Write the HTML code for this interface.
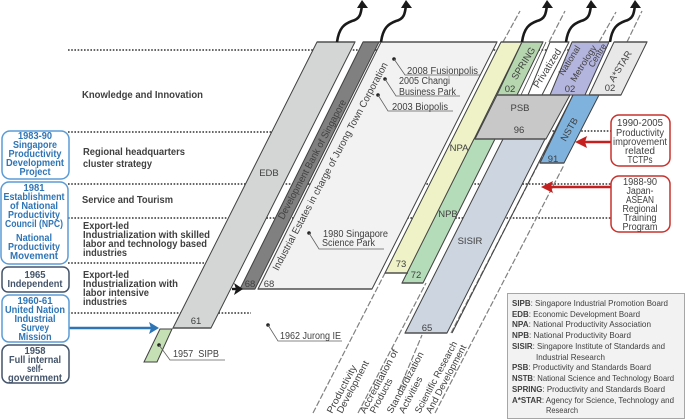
<!DOCTYPE html>
<html><head><meta charset="utf-8">
<style>
html,body{margin:0;padding:0;background:#fff}
svg{display:block;font-family:"Liberation Sans",sans-serif}
.p{stroke:#404040;stroke-width:1}
.dot{stroke:#333;stroke-width:1.6;stroke-dasharray:1.6 1.6;fill:none}
.dash{stroke:#808080;stroke-width:1.2;stroke-dasharray:6 2;fill:none}
.lab{font-size:10px;font-weight:bold;fill:#404040}
.bl{font-size:10px;font-weight:bold;fill:#2e75b6;text-anchor:middle}
.dk{font-size:10px;font-weight:bold;fill:#44546a;text-anchor:middle}
.rd{font-size:10px;fill:#404040;text-anchor:middle}
.t{font-size:10px;fill:#404040}
.m{font-size:9.5px;fill:#404040;text-anchor:middle}
.lg{font-size:8.7px;fill:#404040}
.ld{stroke:#606060;stroke-width:.8;fill:none}
.sq{stroke:#1a1a1a;stroke-width:2.6;fill:none}
</style></head><body>
<svg width="685" height="419" viewBox="0 0 685 419" xmlns="http://www.w3.org/2000/svg">
<!-- dotted -->
<path class="dot" d="M68 50H570M68 132H300M68 184H611M68 218H611M68 263H235M68 313H251M530 131H611"/>
<!-- dashed -->
<path class="dash" d="M313 413L385 273M503 42L520 11M358 413L426 283M549 42L565 11M399 390L422 335M451 333L574 95M599 42L616 12M435 413L564 165M627 42L642 11"/>
<path class="p" fill="none" d="M452 333L573 95"/>
<path d="M521 95L546 42" stroke="#404040" stroke-width=".8" fill="none"/>
<!-- polygons -->
<polygon class="p" fill="#d4d6d6" points="317,42 355,42 211,328 173,328"/>
<polygon class="p" fill="#808080" points="363,42 379,42 255,289 240,289"/>
<polygon class="p" fill="#f2f2f2" points="381,42 497,42 372,289 258,289"/>
<polygon class="p" fill="#eef2c6" points="501,42 522,42 408,273 385,273"/>
<polygon class="p" fill="#b5dcb8" points="474,139 495,139 423,283 402,283"/>
<polygon class="p" fill="#cdd5e0" points="503,139 545,139 447,333 405,333"/>
<polygon class="p" fill="#b5d6ae" points="522,42 543,42 517,95 497,95"/>
<polygon class="p" fill="#c8c8c8" points="497,95 570,95 546,139 475,139"/>
<polygon class="p" fill="#7fb3de" points="573,95 599,95 564,163 540,163"/>
<polygon class="p" fill="#ffffff" points="550,42 569,42 542,95 528,95"/>
<polygon class="p" fill="#b4b5de" points="572,42 609,42 585,95 550,95"/>
<polygon class="p" fill="#e8e8e8" points="614,42 647,42 621,95 589,95"/>
<polygon class="p" fill="#c5e0b4" points="160,329 172,329 157,362 144,362"/>
<path d="M317 42H355M363 42H497M501 42H543M550 42H569M572 42H609M614 42H647M497 95H570M589 95H621M475 139H546M173 328H211M240 289H255M258 289H372M385 273H408M402 283H423M405 333H447M540 163H564" stroke="#505050" stroke-width="1.4" fill="none"/>
<!-- squiggles -->
<g class="sq">
<path d="M337 42C339 28 344 24 352 21C360 19 361 14 362 5"/>
<path d="M381 42C383 28 388 24 396 21C404 19 405 14 406 5"/>
<path d="M522 42C524 28 529 24 537 21C545 19 546 14 547 5"/>
<path d="M566 42C568 28 573 24 581 21C589 19 590 14 591 5"/>
<path d="M610 42C612 28 617 24 625 21C633 19 634 14 635 5"/>
</g>
<g fill="#1a1a1a">
<polygon points="362,0 368,8 357,8"/><polygon points="406,0 412,8 401,8"/><polygon points="547,0 553,8 542,8"/><polygon points="591,0 597,8 586,8"/><polygon points="635,0 641,8 630,8"/>
</g>
<!-- arrows -->
<path d="M69 328H152" stroke="#2e75b6" stroke-width="2.6"/><polygon fill="#2e75b6" points="159,328 149,322 151,328 149,334"/>
<path d="M232 289H238" stroke="#1a1a1a" stroke-width="2.4"/><polygon fill="#1a1a1a" points="243,289 234,283 236,289 234,295"/>
<path d="M611 142H583" stroke="#c5201f" stroke-width="2.6"/><polygon fill="#c5201f" points="575,142 587,136 585,142 587,148"/>
<path d="M611 187H549" stroke="#c5201f" stroke-width="2.6"/><polygon fill="#c5201f" points="541,187 553,181 551,187 553,193"/>
<!-- left boxes -->
<g fill="#fff" stroke-width="1.5">
<rect x="2" y="131" width="67" height="48" rx="8" stroke="#5b9bd5"/>
<rect x="1" y="182" width="67" height="82" rx="8" stroke="#5b9bd5"/>
<rect x="2" y="267" width="67" height="25" rx="6" stroke="#44546a"/>
<rect x="2" y="295" width="67" height="47" rx="7" stroke="#5b9bd5"/>
<rect x="2" y="345" width="67" height="38" rx="7" stroke="#44546a"/>
<rect x="611" y="115" width="59" height="51" rx="8" stroke="#c9302c"/>
<rect x="611" y="176" width="59" height="56" rx="8" stroke="#c9302c"/>
</g>
<g class="bl">
<text x="35" y="139" textLength="34" lengthAdjust="spacingAndGlyphs">1983-90</text>
<text x="35" y="148" textLength="44" lengthAdjust="spacingAndGlyphs">Singapore</text>
<text x="35" y="157" textLength="53" lengthAdjust="spacingAndGlyphs">Productivity</text>
<text x="35" y="166" textLength="58" lengthAdjust="spacingAndGlyphs">Development</text>
<text x="35" y="175" textLength="31" lengthAdjust="spacingAndGlyphs">Project</text>
<text x="34" y="191" textLength="21" lengthAdjust="spacingAndGlyphs">1981</text>
<text x="34" y="200" textLength="61" lengthAdjust="spacingAndGlyphs">Establishment</text>
<text x="34" y="209" textLength="48" lengthAdjust="spacingAndGlyphs">of National</text>
<text x="34" y="218" textLength="52" lengthAdjust="spacingAndGlyphs">Productivity</text>
<text x="34" y="227" textLength="58" lengthAdjust="spacingAndGlyphs">Council (NPC)</text>
<text x="34" y="241" textLength="36" lengthAdjust="spacingAndGlyphs">National</text>
<text x="34" y="250" textLength="52" lengthAdjust="spacingAndGlyphs">Productivity</text>
<text x="34" y="259" textLength="48" lengthAdjust="spacingAndGlyphs">Movement</text>
<text x="35" y="304" textLength="35" lengthAdjust="spacingAndGlyphs">1960-61</text>
<text x="35" y="313" textLength="60" lengthAdjust="spacingAndGlyphs">United Nation</text>
<text x="35" y="322" textLength="41" lengthAdjust="spacingAndGlyphs">Industrial</text>
<text x="35" y="331" textLength="28" lengthAdjust="spacingAndGlyphs">Survey</text>
<text x="35" y="340" textLength="33" lengthAdjust="spacingAndGlyphs">Mission</text>
</g>
<g class="dk">
<text x="35" y="278" textLength="21" lengthAdjust="spacingAndGlyphs">1965</text>
<text x="35" y="287" textLength="55" lengthAdjust="spacingAndGlyphs">Independent</text>
<text x="35" y="354" textLength="21" lengthAdjust="spacingAndGlyphs">1958</text>
<text x="35" y="363" textLength="52" lengthAdjust="spacingAndGlyphs">Full internal</text>
<text x="35" y="372" textLength="16" lengthAdjust="spacingAndGlyphs">self-</text>
<text x="35" y="381" textLength="54" lengthAdjust="spacingAndGlyphs">government</text>
</g>
<!-- stage labels -->
<g class="lab">
<text x="82" y="98" textLength="121" lengthAdjust="spacingAndGlyphs">Knowledge and Innovation</text>
<text x="83" y="155" textLength="102" lengthAdjust="spacingAndGlyphs">Regional headquarters</text>
<text x="83" y="167" textLength="69" lengthAdjust="spacingAndGlyphs">cluster strategy</text>
<text x="82" y="203" textLength="91" lengthAdjust="spacingAndGlyphs">Service and Tourism</text>
<text x="83" y="229" textLength="46" lengthAdjust="spacingAndGlyphs">Export-led</text>
<text x="83" y="238" textLength="127" lengthAdjust="spacingAndGlyphs">Industrialization with skilled</text>
<text x="83" y="247" textLength="124" lengthAdjust="spacingAndGlyphs">labor and technology based</text>
<text x="83" y="256" textLength="44" lengthAdjust="spacingAndGlyphs">industries</text>
<text x="83" y="278" textLength="46" lengthAdjust="spacingAndGlyphs">Export-led</text>
<text x="83" y="287" textLength="95" lengthAdjust="spacingAndGlyphs">Industrialization with</text>
<text x="83" y="296" textLength="66" lengthAdjust="spacingAndGlyphs">labor intensive</text>
<text x="83" y="305" textLength="44" lengthAdjust="spacingAndGlyphs">industries</text>
</g>
<!-- red box text -->
<g class="rd">
<text x="640" y="126" textLength="46" lengthAdjust="spacingAndGlyphs">1990-2005</text>
<text x="640" y="136" textLength="48" lengthAdjust="spacingAndGlyphs">Productivity</text>
<text x="640" y="145" textLength="54" lengthAdjust="spacingAndGlyphs">improvement</text>
<text x="640" y="154" textLength="30" lengthAdjust="spacingAndGlyphs">related</text>
<text x="640" y="163" textLength="25" lengthAdjust="spacingAndGlyphs">TCTPs</text>
<text x="640" y="185" textLength="34" lengthAdjust="spacingAndGlyphs">1988-90</text>
<text x="640" y="194" textLength="27" lengthAdjust="spacingAndGlyphs">Japan-</text>
<text x="640" y="203" textLength="28" lengthAdjust="spacingAndGlyphs">ASEAN</text>
<text x="640" y="212" textLength="35" lengthAdjust="spacingAndGlyphs">Regional</text>
<text x="640" y="221" textLength="33" lengthAdjust="spacingAndGlyphs">Training</text>
<text x="640" y="230" textLength="35" lengthAdjust="spacingAndGlyphs">Program</text>
</g>
<!-- leaders -->
<g fill="#222">
<circle cx="159" cy="345" r="1.8"/><circle cx="268" cy="325" r="1.8"/><circle cx="309" cy="233" r="1.8"/><circle cx="394" cy="59" r="1.8"/><circle cx="385" cy="79" r="1.8"/><circle cx="378" cy="95" r="1.8"/>
</g>
<path class="ld" d="M159 345L170 360H225M268 325L278 341H342M309 233L319 249H384M394 59L405 75H480M385 79L396 96H460M378 95L388 111H453"/>
<g class="t">
<text x="173" y="357" textLength="46" lengthAdjust="spacingAndGlyphs" xml:space="preserve">1957  SIPB</text>
<text x="280" y="339" textLength="61" lengthAdjust="spacingAndGlyphs">1962 Jurong IE</text>
<text x="323" y="237" textLength="65" lengthAdjust="spacingAndGlyphs">1980 Singapore</text>
<text x="322" y="246" textLength="53" lengthAdjust="spacingAndGlyphs">Science Park</text>
<text x="407" y="74" textLength="71" lengthAdjust="spacingAndGlyphs">2008 Fusionpolis</text>
<text x="399" y="84" textLength="51" lengthAdjust="spacingAndGlyphs">2005 Changi</text>
<text x="399" y="95" textLength="57" lengthAdjust="spacingAndGlyphs">Business Park</text>
<text x="392" y="110" textLength="56" lengthAdjust="spacingAndGlyphs">2003 Biopolis</text>
</g>
<!-- shape labels -->
<g class="m">
<text x="269" y="176">EDB</text><text x="196" y="324">61</text>
<text x="250" y="287">68</text><text x="269" y="287">68</text>
<text x="510" y="92">02</text><text x="570" y="92">02</text><text x="610" y="91">02</text>
<text x="520" y="111">PSB</text><text x="519" y="133">96</text>
<text x="553" y="162">91</text>
<text x="459" y="151">NPA</text><text x="448" y="217">NPB</text><text x="470" y="244">SISIR</text>
<text x="401" y="267">73</text><text x="416" y="278">72</text><text x="427" y="331">65</text>
</g>
<!-- rotated -->
<g class="m" style="font-size:10px">
<text transform="translate(526,65) rotate(-58)" style="font-size:9.5px">SPRING</text>
<text transform="translate(550,70) rotate(-58)" textLength="44" lengthAdjust="spacingAndGlyphs">Privatized</text>
<text transform="translate(572,62) rotate(-58)" style="font-size:9px" textLength="33" lengthAdjust="spacingAndGlyphs">National</text>
<text transform="translate(586,65) rotate(-58)" style="font-size:9px" textLength="41" lengthAdjust="spacingAndGlyphs">Metrology</text>
<text transform="translate(600,57) rotate(-58)" style="font-size:9px" textLength="26" lengthAdjust="spacingAndGlyphs">Centre</text>
<text transform="translate(623,68) rotate(-58)" style="font-size:9.5px">A*STAR</text>
<text transform="translate(572,131) rotate(-60)" style="font-size:9.5px">NSTB</text>
<text transform="translate(315,161) rotate(-62)" textLength="134" lengthAdjust="spacingAndGlyphs">Development Bank of Singapore</text>
<text transform="translate(333,168) rotate(-62)" textLength="234" lengthAdjust="spacingAndGlyphs">Industrial Estates in charge of Jurong Town Corporation</text>
</g>
<g class="t" style="font-size:9.5px">
<text transform="translate(332,414) rotate(-62)" textLength="53" lengthAdjust="spacingAndGlyphs">Productivity</text>
<text transform="translate(342,414) rotate(-62)" textLength="58" lengthAdjust="spacingAndGlyphs">Development</text>
<text transform="translate(365,414) rotate(-62)" textLength="71" lengthAdjust="spacingAndGlyphs">Accreditation of</text>
<text transform="translate(375,414) rotate(-62)" textLength="38" lengthAdjust="spacingAndGlyphs">Products</text>
<text transform="translate(392,414) rotate(-62)" textLength="68" lengthAdjust="spacingAndGlyphs">Standardization</text>
<text transform="translate(404,414) rotate(-62)" textLength="40" lengthAdjust="spacingAndGlyphs">Activities</text>
<text transform="translate(420,414) rotate(-62)" textLength="80" lengthAdjust="spacingAndGlyphs">Scientific Research</text>
<text transform="translate(431,414) rotate(-62)" textLength="76" lengthAdjust="spacingAndGlyphs">And Development</text>
</g>
<!-- legend -->
<rect x="507.500" y="293.500" width="177" height="125" fill="#f2f2f2" stroke="#a6a6a6"/>
<g class="lg">
<text x="512" y="306" textLength="156" lengthAdjust="spacingAndGlyphs"><tspan font-weight="bold">SIPB</tspan>: Singapore Industrial Promotion Board</text>
<text x="512" y="317" textLength="128" lengthAdjust="spacingAndGlyphs"><tspan font-weight="bold">EDB</tspan>: Economic Development Board</text>
<text x="512" y="327" textLength="139" lengthAdjust="spacingAndGlyphs"><tspan font-weight="bold">NPA</tspan>: National Productivity Association</text>
<text x="512" y="338" textLength="119" lengthAdjust="spacingAndGlyphs"><tspan font-weight="bold">NPB</tspan>: National Productivity Board</text>
<text x="512" y="349" textLength="153" lengthAdjust="spacingAndGlyphs"><tspan font-weight="bold">SISIR</tspan>: Singapore Institute of Standards and</text>
<text x="536" y="360" textLength="69" lengthAdjust="spacingAndGlyphs">Industrial Research</text>
<text x="512" y="370" textLength="139" lengthAdjust="spacingAndGlyphs"><tspan font-weight="bold">PSB</tspan>: Productivity and Standards Board</text>
<text x="512" y="381" textLength="162" lengthAdjust="spacingAndGlyphs"><tspan font-weight="bold">NSTB</tspan>: National Science and Technology Board</text>
<text x="512" y="392" textLength="153" lengthAdjust="spacingAndGlyphs"><tspan font-weight="bold">SPRING</tspan>: Productivity and Standards Board</text>
<text x="512" y="403" textLength="162" lengthAdjust="spacingAndGlyphs"><tspan font-weight="bold">A*STAR</tspan>: Agency for Science, Technology and</text>
<text x="546" y="413" textLength="32" lengthAdjust="spacingAndGlyphs">Research</text>
</g>
</svg>
</body></html>
